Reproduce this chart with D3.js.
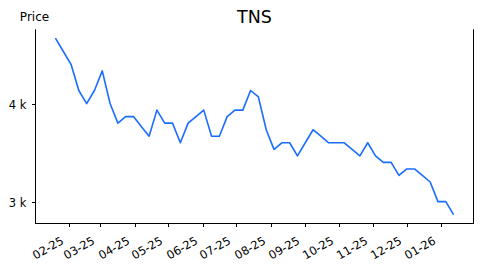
<!DOCTYPE html>
<html><head><meta charset="utf-8">
<script src="https://cdn.jsdelivr.net/npm/d3@7"></script>
<style>body{margin:0;background:#fff;} text{font-family:"DejaVu Sans",sans-serif;fill:#000;}</style>
</head><body>
<svg id="c" width="481" height="268"></svg>
<script>
const title = "TNS";
const yLabel = "Price";
const dates = ["2025-01-20","2025-01-27","2025-02-03","2025-02-10","2025-02-17","2025-02-24","2025-03-03","2025-03-10","2025-03-17","2025-03-24","2025-03-31","2025-04-07","2025-04-14","2025-04-21","2025-04-28","2025-05-05","2025-05-12","2025-05-19","2025-05-26","2025-06-02","2025-06-09","2025-06-16","2025-06-23","2025-06-30","2025-07-07","2025-07-14","2025-07-21","2025-07-28","2025-08-04","2025-08-11","2025-08-18","2025-08-25","2025-09-01","2025-09-08","2025-09-15","2025-09-22","2025-09-29","2025-10-06","2025-10-13","2025-10-20","2025-10-27","2025-11-03","2025-11-10","2025-11-17","2025-11-24","2025-12-01","2025-12-08","2025-12-15","2025-12-22","2025-12-29","2026-01-05","2026-01-12"];
const prices = [4667,4533,4400,4133,4000,4133,4333,4000,3800,3867,
  3867,3767,3667,3933,3800,3800,3600,3800,3867,3933,
  3667,3667,3867,3933,3933,4133,4067,3733,3533,3600,
  3600,3467,3600,3733,3667,3600,3600,3600,3533,3467,
  3600,3467,3400,3400,3267,3333,3333,3267,3200,3000,
  3000,2867];
const yTicks = [3000, 4000];
const yTickLabels = ["3 k", "4 k"];
const xTicks = ["2025-02-01","2025-03-01","2025-04-01","2025-05-01","2025-06-01","2025-07-01","2025-08-01","2025-09-01","2025-10-01","2025-11-01","2025-12-01","2026-01-01"];

const parse = d3.utcParse("%Y-%m-%d");
const data = dates.map((d,i)=>({date: parse(d), v: prices[i]}));
const L = 35.5, R = 473.5, T = 29.3, B = 223.5;
const svg = d3.select("#c");

const xExt = d3.extent(data, d=>d.date);
const xPad = (xExt[1]-xExt[0])*0.05;
const x = d3.scaleUtc().domain([new Date(+xExt[0]-xPad), new Date(+xExt[1]+xPad)]).range([L, R]);
const yExt = d3.extent(prices);
const yPad = (yExt[1]-yExt[0])*0.05;
const y = d3.scaleLinear().domain([yExt[0]-yPad, yExt[1]+yPad]).range([B, T]);

// line
svg.append("path").datum(data)
  .attr("d", d3.line().x(d=>x(d.date)).y(d=>y(d.v)))
  .attr("fill","none").attr("stroke","#1a6dff").attr("stroke-width",1.6)
  .attr("stroke-linejoin","round");

// spines
svg.append("line").attr("x1",L).attr("x2",L).attr("y1",T).attr("y2",B+0.5).attr("stroke","#000");
svg.append("line").attr("x1",R).attr("x2",R).attr("y1",T).attr("y2",B+0.5).attr("stroke","#000");
svg.append("line").attr("x1",L-0.5).attr("x2",R+0.5).attr("y1",B).attr("y2",B).attr("stroke","#000");

// y ticks
yTicks.forEach((t,i)=>{
  const yy = Math.round(y(t))+0.5;
  svg.append("line").attr("x1",L-3.5).attr("x2",L).attr("y1",yy).attr("y2",yy).attr("stroke","#000");
  svg.append("text").attr("x",26.5).attr("y",yy).attr("dy","0.36em")
    .attr("text-anchor","end").attr("font-size","11.5px").text(yTickLabels[i]);
});

// x ticks
const fmt = d3.utcFormat("%m-%y");
xTicks.forEach(s=>{
  const d = parse(s);
  const xx = Math.round(x(d))+0.5;
  svg.append("line").attr("x1",xx).attr("x2",xx).attr("y1",B).attr("y2",B+3.5).attr("stroke","#000");
  svg.append("text").attr("text-anchor","end").attr("font-size","11.5px")
    .attr("transform",`translate(${xx-5},243) rotate(-30)`).text(fmt(d));
});

// title & label
svg.append("text").attr("x",(L+R)/2).attr("y",23.3).attr("text-anchor","middle")
  .attr("font-size","17.5px").text(title);
svg.append("text").attr("x",34.5).attr("y",21).attr("text-anchor","middle")
  .attr("font-size","12px").text(yLabel);
</script>
</body></html>
